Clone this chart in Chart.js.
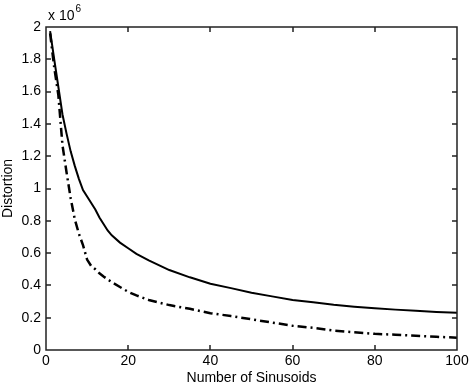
<!DOCTYPE html>
<html>
<head>
<meta charset="utf-8">
<script src="https://cdn.jsdelivr.net/npm/chart.js@4"></script>
<style>
  html, body { margin: 0; padding: 0; background: #fff; }
  #wrap { width: 474px; height: 387px; }
</style>
</head>
<body>
<div id="wrap"><canvas id="distChart" width="474" height="387"></canvas></div>
<script>
// values, distortion in units of 10^6
const solidX = [1, 2, 3, 4, 5, 6, 7, 8, 9, 10, 11, 12, 13, 14, 15, 16, 18, 20, 22, 25, 30, 35, 40, 45, 50, 55, 60, 65, 70, 75, 80, 85, 90, 95, 100];
const solidY = [1.975, 1.80, 1.63, 1.46, 1.34, 1.23, 1.14, 1.06, 0.99, 0.95, 0.91, 0.87, 0.82, 0.78, 0.74, 0.71, 0.665, 0.63, 0.595, 0.555, 0.495, 0.45, 0.41, 0.383, 0.355, 0.332, 0.31, 0.295, 0.28, 0.268, 0.258, 0.25, 0.243, 0.236, 0.23];

const dashX = [1, 2, 3, 4, 5, 6, 7, 8, 9, 10, 11, 12, 13, 14, 16, 18, 20, 22, 25, 30, 35, 40, 45, 50, 55, 60, 65, 70, 75, 80, 85, 90, 95, 100];
const dashY = [1.96, 1.75, 1.58, 1.27, 1.10, 0.94, 0.81, 0.72, 0.65, 0.56, 0.52, 0.50, 0.475, 0.455, 0.42, 0.39, 0.36, 0.338, 0.31, 0.278, 0.255, 0.228, 0.21, 0.19, 0.17, 0.15, 0.137, 0.12, 0.11, 0.10, 0.095, 0.088, 0.082, 0.076];

const xTicks = [0, 20, 40, 60, 80, 100];
const yTicks = [0, 0.2, 0.4, 0.6, 0.8, 1, 1.2, 1.4, 1.6, 1.8, 2];

const FONT = "'Liberation Sans', Arial, Helvetica, sans-serif";

function toPoints(xs, ys) {
    return xs.map((x, i) => ({ x: x, y: ys[i] }));
}

// matlab style box with inward ticks and the x 10^6 multiplier
const boxPlugin = {
    id: 'boxTicks',
    afterDatasetsDraw(chart) {
        const c = chart.ctx;
        const a = chart.chartArea;
        const xs = chart.scales.x;
        const ys = chart.scales.y;
        const len = 5;
        const L = Math.round(a.left), R = Math.round(a.right);
        const T = Math.round(a.top), B = Math.round(a.bottom);
        c.save();
        c.setLineDash([]);
        c.globalAlpha = 1;
        c.lineWidth = 1.5;
        c.strokeStyle = '#222';
        c.beginPath();
        c.rect(L, T, R - L, B - T);
        xTicks.forEach(v => {
            const p = Math.round(xs.getPixelForValue(v));
            c.moveTo(p, B); c.lineTo(p, B - len);
            c.moveTo(p, T); c.lineTo(p, T + len);
        });
        yTicks.forEach(v => {
            const p = Math.round(ys.getPixelForValue(v));
            c.moveTo(L, p); c.lineTo(L + len, p);
            c.moveTo(R, p); c.lineTo(R - len, p);
        });
        c.stroke();

        c.fillStyle = '#000';
        c.textBaseline = 'alphabetic';
        c.textAlign = 'left';
        c.font = '14px ' + FONT;
        c.fillText('x 10', L + 2, T - 7);
        const w = c.measureText('x 10').width;
        c.font = '10px ' + FONT;
        c.fillText('6', L + 3 + w, T - 15);
        c.restore();
    }
};

const ctx = document.getElementById('distChart').getContext('2d');

new Chart(ctx, {
    type: 'line',
    data: {
        datasets: [{
            label: 'solid',
            data: toPoints(solidX, solidY),
            borderColor: '#000',
            borderWidth: 2,
            pointRadius: 0,
            tension: 0,
            fill: false
        }, {
            label: 'dash-dot',
            data: toPoints(dashX, dashY),
            borderColor: '#000',
            borderWidth: 2.5,
            borderDash: [9, 4, 2, 4],
            pointRadius: 0,
            tension: 0,
            fill: false
        }]
    },
    options: {
        responsive: false,
        animation: false,
        layout: { padding: { top: 27, right: 17, left: 0, bottom: 0 } },
        plugins: {
            legend: { display: false },
            tooltip: { enabled: false }
        },
        scales: {
            x: {
                type: 'linear',
                min: 0,
                max: 100,
                grid: { display: false, drawTicks: false },
                border: { display: false },
                afterFit(scale) { scale.height = 37; },
                afterBuildTicks(scale) { scale.ticks = xTicks.map(v => ({ value: v })); },
                ticks: {
                    color: '#000',
                    padding: 3,
                    maxRotation: 0,
                    font: { family: FONT, size: 14 }
                },
                title: {
                    display: true,
                    text: 'Number of Sinusoids',
                    color: '#000',
                    padding: { top: 0, bottom: 0 },
                    font: { family: FONT, size: 14 }
                }
            },
            y: {
                type: 'linear',
                min: 0,
                max: 2,
                grid: { display: false, drawTicks: false },
                border: { display: false },
                afterFit(scale) { scale.width = 46; },
                afterBuildTicks(scale) { scale.ticks = yTicks.map(v => ({ value: v })); },
                ticks: {
                    color: '#000',
                    padding: 5,
                    font: { family: FONT, size: 14 },
                    callback: v => String(Math.round(v * 10) / 10)
                },
                title: {
                    display: true,
                    text: 'Distortion',
                    color: '#000',
                    padding: { top: 0, bottom: 0 },
                    font: { family: FONT, size: 14 }
                }
            }
        }
    },
    plugins: [boxPlugin]
});
</script>
</body>
</html>
